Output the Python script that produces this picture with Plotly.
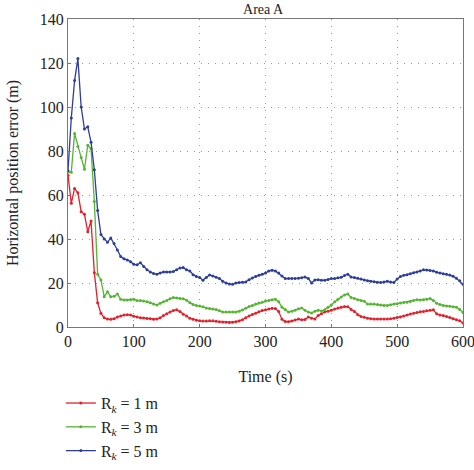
import plotly.graph_objects as go

# sampling instants (s), one every 5 s
time_s = list(range(0, 601, 5))

err_r1 = [
    69, 56.2, 63, 61, 52.4, 51.2, 43.3, 48.2, 24.7, 11, 6.2, 4.2, 3.6, 3.5, 3.8, 4.5, 5, 5.4, 5.6, 5.4,
    4.9, 4.5, 4.2, 4.1, 3.9, 3.7, 3.5, 3.6, 4.2, 5.2, 6, 6.8, 7.5, 7.8, 7, 5.8, 5, 4, 3.5, 3.1,
    2.8, 2.7, 2.7, 2.8, 2.8, 2.6, 2.4, 2.3, 2.2, 2.1, 2.2, 2.4, 2.7, 3.3, 4.2, 5, 5.7, 6.2, 6.9, 7.5,
    7.8, 8.2, 8.5, 8.4, 7, 3.5, 2.5, 2.4, 2.7, 3.2, 3.6, 3.3, 3.4, 4.6, 4, 3.6, 5.2, 6, 6.8, 7.2,
    7.6, 8.2, 8.6, 9, 9.3, 9.2, 8, 7, 5.6, 4.8, 4.4, 4, 3.8, 3.6, 3.6, 3.6, 3.6, 3.6, 3.7, 4,
    4.3, 4.6, 5, 5.4, 5.9, 6.3, 6.6, 6.9, 7.1, 7.4, 7.6, 7.8, 6, 5.4, 5.2, 4.8, 4.3, 3.8, 3.3, 2.8, 1.8,
]

err_r3 = [
    70.5, 70.3, 88, 82, 77, 71.7, 82.6, 81, 57, 24, 21.4, 13.8, 16, 13.8, 14, 15, 12.6, 12.3, 12.3, 12.4,
    12.6, 12, 12, 11.8, 11.5, 11, 10.5, 10, 10.8, 11.5, 12, 12.8, 13.4, 13.2, 13, 12.8, 12.2, 11, 10.2, 9.8,
    9.6, 9.2, 8.6, 8.4, 8.2, 7.9, 7.4, 6.8, 6.8, 6.8, 6.8, 6.8, 7.2, 7.7, 8.5, 9.3, 9.8, 10.4, 10.9, 11.3,
    11.8, 12.1, 12.4, 12.6, 11.5, 9, 7.9, 6.8, 7.2, 7.6, 8.3, 8.6, 7.6, 6.8, 6.4, 7.2, 7.6, 7.3, 7.8, 9,
    10, 11.5, 12.6, 13.6, 14.6, 15, 13.4, 12.9, 12.4, 12, 11.7, 10.4, 10.4, 10.5, 10.2, 10, 9.8, 9.8, 10.1, 10.4,
    10.6, 10.9, 11.1, 11.3, 11.6, 12, 12.4, 12.3, 12.4, 12.6, 12.9, 12, 10.8, 10.2, 9.8, 9.6, 9.4, 9.2, 9, 8, 6.6,
]

err_r5 = [
    71, 95, 112, 122, 100, 90, 91, 84, 71.5, 53, 42, 40, 38.5, 40.5, 38, 35, 32, 31, 30.5, 29.7,
    28.5, 28.3, 29.2, 27.5, 26, 25, 24.3, 24, 24.5, 25, 25, 25, 25.2, 26, 26.8, 27, 26, 25.5, 23.8, 23,
    22.5, 21.3, 22.5, 23.6, 23.2, 22.6, 22, 20.8, 20, 19.6, 19.4, 20, 20.2, 20.3, 20.5, 21.5, 22.3, 23, 23.5, 24,
    24.5, 25.5, 25.8, 25.5, 24.5, 23.2, 22, 22, 22, 22, 22.2, 22.4, 22.7, 22, 20, 21.4, 21.5, 21.2, 21.2, 21.6,
    22, 22, 22.4, 22.6, 23.4, 24, 22.7, 22.5, 22.2, 21.8, 21.4, 21, 20.8, 20.6, 20.3, 20.2, 20.5, 20.8, 20.5, 20.2,
    21.8, 22.9, 23.5, 23.8, 24.2, 24.7, 25, 25.5, 26, 25.9, 25.7, 25.5, 24.9, 24.6, 24.2, 24, 23.6, 23.1, 22.2, 21, 19.4,
]

series_names = ["R<sub><i>k</i></sub> = 1 m", "R<sub><i>k</i></sub> = 3 m", "R<sub><i>k</i></sub> = 5 m"]
series_colors = ["#e3202b", "#55b532", "#2c3e98"]

fig = go.Figure()
for name, vals, col in zip(series_names, [err_r1, err_r3, err_r5], series_colors):
    fig.add_trace(go.Scatter(
        x=time_s, y=vals, name=name,
        mode="lines+markers",
        line=dict(color=col, width=1.3),
        marker=dict(color=col, size=3),
    ))

serif = "Liberation Serif"
txt = dict(family=serif, size=16, color="#222")

# shared axis look: dotted grid, boxed frame, small inward ticks
axis_style = dict(
    showgrid=True, gridcolor="#9a9a9a", griddash="1px,6px", gridwidth=1,
    showline=True, linecolor="#777", linewidth=1.3, mirror=True,
    ticks="inside", ticklen=3, tickcolor="#777",
    tickfont=txt, zeroline=False, automargin=False,
    ticklabeloverflow="allow",
)

fig.update_layout(
    width=474, height=470, autosize=False,
    plot_bgcolor="white", paper_bgcolor="white",
    margin=dict(l=68, r=11, t=19, b=143),
    font=txt,
    title=dict(text="Area A", x=0.555, xanchor="center", y=0.981, yanchor="middle",
               font=dict(family=serif, size=14, color="#222")),
    xaxis=dict(
        title=dict(text="Time (s)", standoff=22, font=txt),
        range=[0, 600], tickvals=[0, 100, 200, 300, 400, 500, 600],
        **axis_style,
    ),
    yaxis=dict(
        title=dict(text="Horizontal position error (m)", standoff=17, font=txt),
        range=[0, 140], tickvals=[0, 20, 40, 60, 80, 100, 120, 140],
        **axis_style,
    ),
    legend=dict(
        x=-0.018, y=0.004, yref="container", xanchor="left", yanchor="bottom",
        font=txt, itemwidth=30, bgcolor="rgba(0,0,0,0)",
    ),
)

# drop the default page margin so the figure sits at the window's corner
fig.write_html(
    "out.html",
    config={"displayModeBar": False, "responsive": False},
    post_script="document.body.style.margin='0';",
)
